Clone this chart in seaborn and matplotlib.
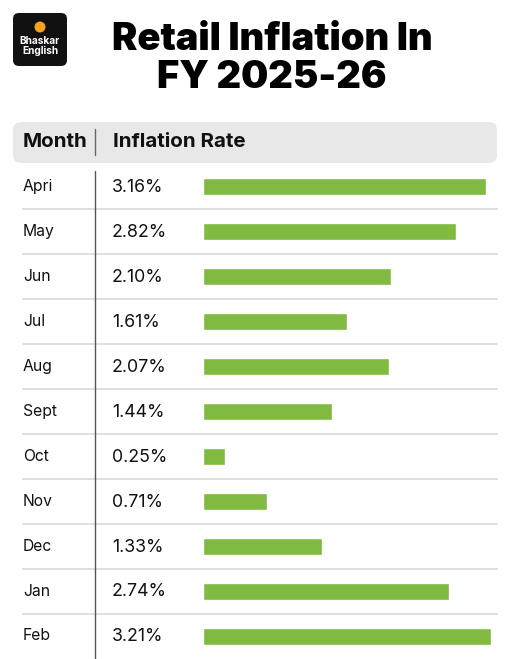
import matplotlib
matplotlib.use("Agg")
import matplotlib.pyplot as plt
import seaborn as sns
import pandas as pd
from matplotlib.patches import FancyBboxPatch, Circle

months = ["Apri", "May", "Jun", "Jul", "Aug", "Sept", "Oct", "Nov", "Dec", "Jan", "Feb"]
rates = [3.16, 2.82, 2.10, 1.61, 2.07, 1.44, 0.25, 0.71, 1.33, 2.74, 3.21]
value_labels = ["3.16%", "2.82%", "2.10%", "1.61%", "2.07%", "1.44%", "0.25%", "0.71%", "1.33%", "2.74%", "3.21%"]
title_lines = ["Retail Inflation In", "FY 2025-26"]
header_month = "Month"
header_rate = "Inflation Rate"

sns.set_theme(style="white")
plt.rcParams['font.family'] = ['Inter', 'DejaVu Sans']

W, H = 512, 659
fig = plt.figure(figsize=(W / 100, H / 100), dpi=100)
fig.patch.set_facecolor("white")

s = 89.65  # px per % unit
x0 = 203
row_h = 44.9
y_first = 187

ax = fig.add_axes([0, 0, 1, 1])
df = pd.DataFrame({"month": months, "rate": rates})
sns.barplot(data=df, x="rate", y="month", orient="h", color="#80ba40",
            saturation=1, width=17 / row_h, ax=ax)
ax.set_xlim(-x0 / s, (W - x0) / s)
ax.set_ylim((H - y_first) / row_h, -y_first / row_h)
ax.axis("off")

def px(xp):
    return (xp - x0) / s

def py(yp):
    return (yp - y_first) / row_h

for i, (m, v) in enumerate(zip(months, value_labels)):
    ax.text(px(23), i, m, ha="left", va="center", fontsize=11.3, color="#111111")
    ax.text(px(112), i + 0.02, v, ha="left", va="center", fontsize=12.8, color="#111111")
for i in range(len(months) - 1):
    ax.plot([px(23), px(497)], [i + 0.5, i + 0.5], color="#dcdcdc", lw=1.3, zorder=0)
ax.plot([px(95), px(95)], [py(171), py(H)], color="#555555", lw=1.0)

# header bar
hdr = FancyBboxPatch((13, H - 163), 484, 41, boxstyle="round,pad=0,rounding_size=8",
                     transform=None, facecolor="#e8e8e8", edgecolor="none")
fig.patches.append(hdr)
fig.text(23 / W, 1 - 142 / H, header_month, ha="left", va="center", fontsize=14.8,
         fontweight="bold", color="#111111")
fig.text(113 / W, 1 - 142 / H, header_rate, ha="left", va="center", fontsize=14.8,
         fontweight="bold", color="#111111")
fig.add_artist(plt.Line2D([95 / W, 95 / W], [1 - 129 / H, 1 - 155 / H], color="#666666", lw=1.0))

# title
for yy, line in zip([40, 78], title_lines):
    fig.text(272 / W, 1 - yy / H, line, ha="center", va="center", fontsize=27.5,
             fontweight="black", color="black")

# logo
logo = FancyBboxPatch((13, H - 66), 54, 53, boxstyle="round,pad=0,rounding_size=6",
                      transform=None, facecolor="#111111", edgecolor="none")
fig.patches.append(logo)
fig.patches.append(Circle((40, H - 27), 5.5, transform=None, facecolor="#f7a21b", edgecolor="none"))
fig.text(40 / W, 1 - 46 / H, "Bhaskar\nEnglish", ha="center", va="center", fontsize=7.3,
         fontweight="bold", color="white", linespacing=1.1)

fig.savefig("out.png", dpi=100)
